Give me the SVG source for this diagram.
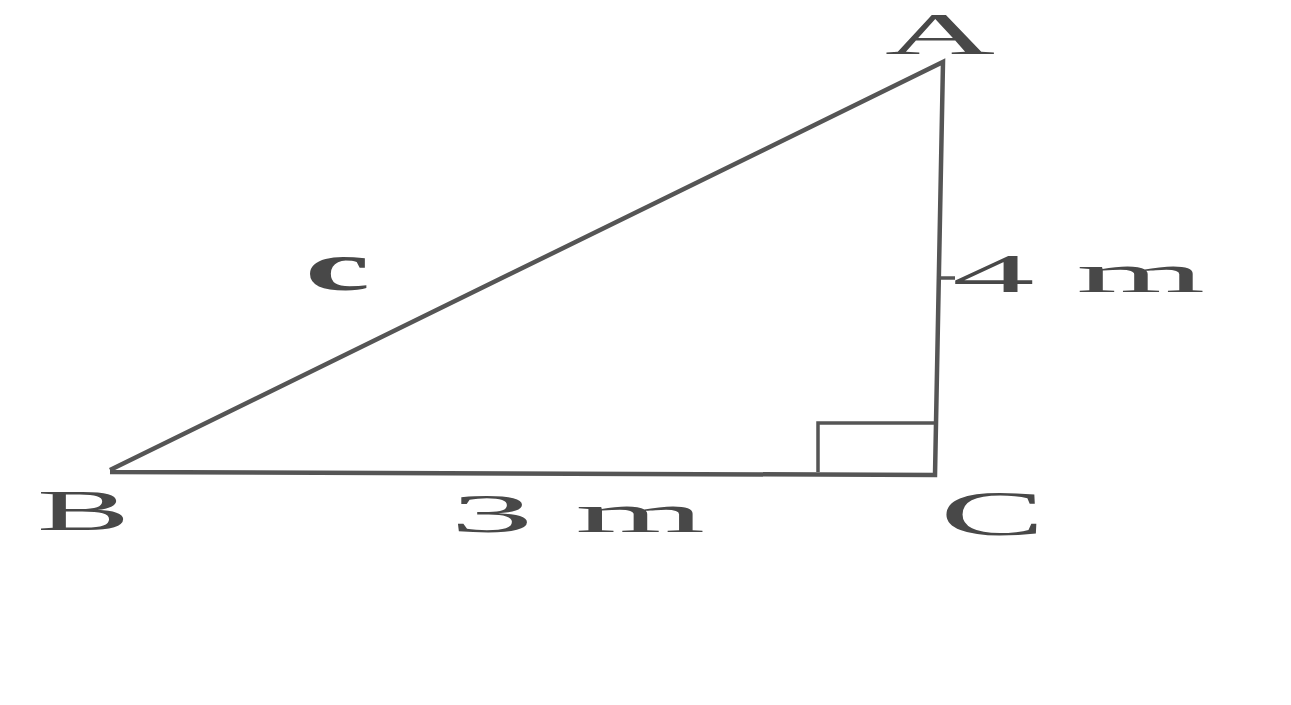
<svg xmlns="http://www.w3.org/2000/svg" width="1291" height="705" viewBox="0 0 1291 705">
<style>
.edge{fill:none;stroke:#555;stroke-width:4.5;stroke-linejoin:miter}
.thin{fill:none;stroke:#555;stroke-width:3.5}
.lbl{font-family:"Liberation Serif","Times New Roman",serif;fill:#484848}
</style>
<rect width="1291" height="705" fill="#fff"/>
<g id="connectors">
<polyline class="edge" points="110,470 943,62 935,475 110,472"/>
<polyline class="thin" points="818,472 818,423 937,423"/>
<line class="thin" x1="937" y1="278" x2="955" y2="278"/>
</g>
<g id="node-A"><text class="lbl" x="885" y="54" font-size="59" textLength="110" lengthAdjust="spacingAndGlyphs">A</text></g>
<g id="node-B"><text class="lbl" x="37" y="530" font-size="57" textLength="93" lengthAdjust="spacingAndGlyphs">B</text></g>
<g id="node-C"><text class="lbl" x="940" y="535" font-size="64" textLength="105" lengthAdjust="spacingAndGlyphs">C</text></g>
<g id="label-c"><text class="lbl" x="305" y="290" font-size="70" font-weight="bold" textLength="65" lengthAdjust="spacingAndGlyphs">c</text></g>
<g id="label-3m"><text class="lbl" x="450" y="532" font-size="55" textLength="255" lengthAdjust="spacingAndGlyphs">3 m</text></g>
<g id="label-4m"><text class="lbl" x="952" y="292" font-size="55" textLength="253" lengthAdjust="spacingAndGlyphs">4 m</text></g>
</svg>
